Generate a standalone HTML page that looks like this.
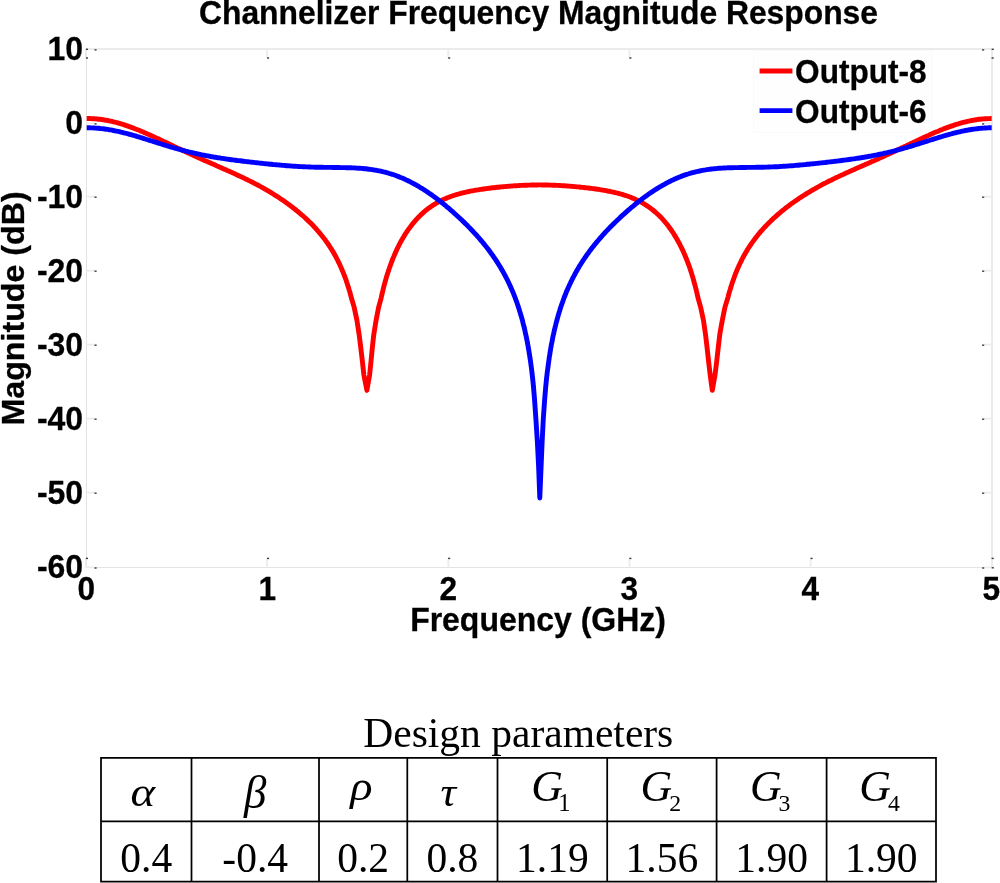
<!DOCTYPE html>
<html lang="en">
<head>
<meta charset="utf-8">
<title>Channelizer Frequency Magnitude Response</title>
<style>
html,body{margin:0;padding:0;background:#fff;}
body{width:1000px;height:883px;overflow:hidden;}
svg{display:block;}
</style>
</head>
<body>
<svg width="1000" height="883" viewBox="0 0 1000 883">
<rect width="1000" height="883" fill="#fff"/>
<!-- axes -->
<path d="M86.5 48.0V568.0" stroke="#e2e2e2" stroke-width="1"/>
<path d="M992.0 48.0V568.0" stroke="#ebebeb" stroke-width="2"/>
<path d="M86.0 49.0H993.0" stroke="#ebebeb" stroke-width="2"/>
<path d="M86.0 567.5H993.0" stroke="#e4e4e4" stroke-width="1"/>
<path d="M86.0 49.0v8.5M86.0 567.5v-8.5" stroke="#ececec" stroke-width="1.8"/>
<path d="M267.1 49.0v8.5M267.1 567.5v-8.5" stroke="#ececec" stroke-width="1.8"/>
<path d="M448.3 49.0v8.5M448.3 567.5v-8.5" stroke="#ececec" stroke-width="1.8"/>
<path d="M629.5 49.0v8.5M629.5 567.5v-8.5" stroke="#ececec" stroke-width="1.8"/>
<path d="M810.6 49.0v8.5M810.6 567.5v-8.5" stroke="#ececec" stroke-width="1.8"/>
<path d="M991.8 49.0v8.5M991.8 567.5v-8.5" stroke="#ececec" stroke-width="1.8"/>
<path d="M86.5 49.3h8.5M992.0 49.3h-8.5" stroke="#ececec" stroke-width="1.6"/>
<path d="M86.5 123.3h8.5M992.0 123.3h-8.5" stroke="#ececec" stroke-width="1.6"/>
<path d="M86.5 196.6h8.5M992.0 196.6h-8.5" stroke="#ececec" stroke-width="1.6"/>
<path d="M86.5 270.6h8.5M992.0 270.6h-8.5" stroke="#ececec" stroke-width="1.6"/>
<path d="M86.5 344.6h8.5M992.0 344.6h-8.5" stroke="#ececec" stroke-width="1.6"/>
<path d="M86.5 418.6h8.5M992.0 418.6h-8.5" stroke="#ececec" stroke-width="1.6"/>
<path d="M86.5 492.6h8.5M992.0 492.6h-8.5" stroke="#ececec" stroke-width="1.6"/>
<path d="M86.5 567.4h8.5M992.0 567.4h-8.5" stroke="#ececec" stroke-width="1.6"/>
<rect x="85.9" y="57.3" width="2.1" height="1.4" fill="#3a3a3a"/>
<rect x="85.9" y="557.7" width="2.1" height="1.4" fill="#3a3a3a"/>
<rect x="267.0" y="57.3" width="2.1" height="1.4" fill="#3a3a3a"/>
<rect x="267.0" y="557.7" width="2.1" height="1.4" fill="#3a3a3a"/>
<rect x="448.1" y="57.3" width="2.1" height="1.4" fill="#3a3a3a"/>
<rect x="448.1" y="557.7" width="2.1" height="1.4" fill="#3a3a3a"/>
<rect x="629.3" y="57.3" width="2.1" height="1.4" fill="#3a3a3a"/>
<rect x="629.3" y="557.7" width="2.1" height="1.4" fill="#3a3a3a"/>
<rect x="810.5" y="57.3" width="2.1" height="1.4" fill="#3a3a3a"/>
<rect x="810.5" y="557.7" width="2.1" height="1.4" fill="#3a3a3a"/>
<rect x="991.6" y="57.3" width="2.1" height="1.4" fill="#3a3a3a"/>
<rect x="991.6" y="557.7" width="2.1" height="1.4" fill="#3a3a3a"/>
<rect x="94.5" y="49.2" width="2.1" height="1.4" fill="#3a3a3a"/>
<rect x="982.1" y="49.2" width="2.1" height="1.4" fill="#3a3a3a"/>
<rect x="94.5" y="123.2" width="2.1" height="1.4" fill="#3a3a3a"/>
<rect x="982.1" y="123.2" width="2.1" height="1.4" fill="#3a3a3a"/>
<rect x="94.5" y="196.5" width="2.1" height="1.4" fill="#3a3a3a"/>
<rect x="982.1" y="196.5" width="2.1" height="1.4" fill="#3a3a3a"/>
<rect x="94.5" y="270.5" width="2.1" height="1.4" fill="#3a3a3a"/>
<rect x="982.1" y="270.5" width="2.1" height="1.4" fill="#3a3a3a"/>
<rect x="94.5" y="344.5" width="2.1" height="1.4" fill="#3a3a3a"/>
<rect x="982.1" y="344.5" width="2.1" height="1.4" fill="#3a3a3a"/>
<rect x="94.5" y="418.5" width="2.1" height="1.4" fill="#3a3a3a"/>
<rect x="982.1" y="418.5" width="2.1" height="1.4" fill="#3a3a3a"/>
<rect x="94.5" y="492.5" width="2.1" height="1.4" fill="#3a3a3a"/>
<rect x="982.1" y="492.5" width="2.1" height="1.4" fill="#3a3a3a"/>
<rect x="94.5" y="567.3" width="2.1" height="1.4" fill="#3a3a3a"/>
<rect x="982.1" y="567.3" width="2.1" height="1.4" fill="#3a3a3a"/>
<rect x="85.9" y="48.6" width="2.1" height="1.4" fill="#3a3a3a"/>
<rect x="991.7" y="48.6" width="2.1" height="1.4" fill="#3a3a3a"/>
<rect x="991.7" y="567.1" width="2.1" height="1.4" fill="#3a3a3a"/>
<!-- legend -->
<rect x="753.5" y="50.5" width="178.5" height="82" fill="#fefefe" stroke="#fafafa" stroke-width="1"/><path d="M759.6 71H792.4" stroke="#ff0000" stroke-width="4.8"/><path d="M759.6 110.6H792.4" stroke="#0000ff" stroke-width="4.8"/>
<!-- curves -->
<path d="M86.7 118.5L88.2 118.5L89.7 118.5L91.2 118.6L92.7 118.7L94.2 118.8L95.7 118.9L97.2 119.0L98.7 119.2L100.2 119.3L101.7 119.5L103.1 119.7L104.6 120.0L106.1 120.2L107.6 120.5L109.1 120.8L110.5 121.1L112.0 121.4L113.5 121.8L114.9 122.1L116.4 122.5L117.8 122.9L119.3 123.3L120.7 123.7L122.1 124.2L123.6 124.6L125.0 125.1L126.4 125.6L127.9 126.1L129.3 126.6L130.7 127.1L132.1 127.6L133.5 128.1L134.9 128.7L136.3 129.2L137.7 129.8L139.1 130.3L140.5 130.9L141.9 131.5L143.2 132.1L144.6 132.7L146.0 133.3L147.4 133.9L148.7 134.5L150.1 135.1L151.5 135.7L152.8 136.3L154.2 136.9L155.6 137.6L156.9 138.2L158.3 138.8L159.7 139.5L161.0 140.1L162.4 140.8L163.7 141.4L165.1 142.0L166.4 142.7L167.8 143.3L169.1 144.0L170.5 144.6L171.8 145.3L173.2 145.9L174.6 146.6L175.9 147.2L177.3 147.9L178.6 148.5L180.0 149.1L181.3 149.8L182.7 150.4L184.0 151.1L185.4 151.7L186.8 152.3L188.1 153.0L189.5 153.6L190.8 154.2L192.2 154.8L193.6 155.5L194.9 156.1L196.3 156.7L197.7 157.3L199.0 158.0L200.4 158.6L201.8 159.2L203.1 159.8L204.5 160.4L205.9 161.0L207.2 161.6L208.6 162.2L210.0 162.8L211.4 163.4L212.7 164.0L214.1 164.6L215.5 165.2L216.9 165.9L218.2 166.5L219.6 167.1L221.0 167.7L222.3 168.3L223.7 168.9L225.1 169.5L226.5 170.1L227.8 170.7L229.2 171.3L230.6 171.9L231.9 172.5L233.3 173.1L234.7 173.8L236.0 174.4L237.4 175.0L238.8 175.7L240.1 176.3L241.5 176.9L242.8 177.6L244.2 178.2L245.5 178.9L246.9 179.5L248.2 180.2L249.6 180.9L250.9 181.5L252.3 182.2L253.6 182.9L254.9 183.6L256.3 184.3L257.6 185.0L258.9 185.7L260.2 186.4L261.6 187.1L262.9 187.9L264.2 188.6L265.5 189.4L266.8 190.1L268.1 190.9L269.4 191.6L270.7 192.4L271.9 193.2L273.2 194.0L274.5 194.8L275.8 195.6L277.0 196.4L278.3 197.2L279.5 198.0L280.8 198.9L282.0 199.7L283.3 200.6L284.5 201.4L285.7 202.3L287.0 203.2L288.2 204.1L289.4 205.0L290.6 205.9L291.8 206.8L293.0 207.7L294.2 208.6L295.3 209.5L296.5 210.5L297.7 211.4L298.8 212.4L300.0 213.4L301.1 214.3L302.3 215.3L303.4 216.3L304.5 217.3L305.6 218.3L306.7 219.4L307.8 220.4L308.9 221.5L310.0 222.5L311.1 223.6L312.1 224.6L313.2 225.7L314.2 226.8L315.2 227.9L316.2 229.0L317.2 230.2L318.2 231.3L319.2 232.5L320.2 233.6L321.1 234.8L322.1 236.0L323.0 237.1L323.9 238.3L324.9 239.5L325.8 240.8L326.6 242.0L327.5 243.2L328.4 244.5L329.2 245.7L330.0 247.0L330.8 248.3L331.7 249.5L332.4 250.8L333.2 252.1L334.0 253.4L334.7 254.8L335.5 256.1L336.2 257.4L336.9 258.8L337.6 260.1L338.2 261.5L338.9 262.8L339.6 264.2L340.2 265.6L340.8 267.0L341.4 268.3L342.0 269.7L342.6 271.1L343.2 272.5L343.7 273.9L344.3 275.4L344.8 276.8L345.4 278.2L345.9 279.6L346.4 281.1L346.8 282.5L347.3 283.9L347.8 285.4L348.2 286.8L348.7 288.3L349.1 289.7L349.6 291.2L350.0 292.7L350.4 294.1L350.8 295.6L351.2 297.1L351.4 298.0L354.2 307.4L357.0 320.8L359.1 334.3L360.8 347.9L362.4 361.5L363.9 375.1L366.9 390.4L369.6 375.1L371.0 361.5L372.3 347.9L373.8 334.3L376.0 320.8L378.6 307.4L381.2 297.8L381.5 296.3L381.8 294.9L382.2 293.5L382.5 292.0L382.9 290.6L383.2 289.1L383.6 287.7L383.9 286.2L384.3 284.8L384.7 283.4L385.1 281.9L385.5 280.5L385.9 279.1L386.3 277.7L386.7 276.2L387.2 274.8L387.6 273.4L388.1 272.0L388.5 270.6L389.0 269.2L389.5 267.8L390.0 266.4L390.5 265.0L391.0 263.6L391.5 262.2L392.1 260.8L392.6 259.4L393.1 258.0L393.7 256.7L394.3 255.3L394.9 253.9L395.5 252.6L396.1 251.2L396.7 249.9L397.3 248.5L398.0 247.2L398.7 245.9L399.3 244.5L400.0 243.2L400.7 241.9L401.4 240.6L402.2 239.3L402.9 238.0L403.7 236.7L404.4 235.5L405.2 234.2L406.0 233.0L406.8 231.7L407.7 230.5L408.5 229.3L409.4 228.1L410.3 226.9L411.2 225.7L412.1 224.5L413.0 223.4L414.0 222.2L414.9 221.1L415.9 220.0L416.9 218.9L417.9 217.8L419.0 216.7L420.0 215.7L421.1 214.6L422.2 213.6L423.3 212.6L424.4 211.6L425.5 210.7L426.7 209.7L427.9 208.8L429.1 207.9L430.3 207.1L431.5 206.2L432.7 205.4L434.0 204.6L435.3 203.8L436.5 203.0L437.8 202.3L439.2 201.6L440.5 200.9L441.8 200.2L443.2 199.6L444.5 199.0L445.9 198.4L447.3 197.8L448.7 197.3L450.1 196.7L451.5 196.2L452.9 195.7L454.3 195.3L455.7 194.8L457.2 194.4L458.6 194.0L460.1 193.6L461.5 193.2L463.0 192.8L464.4 192.5L465.9 192.2L467.3 191.8L468.8 191.5L470.3 191.2L471.7 190.9L473.2 190.7L474.7 190.4L476.2 190.1L477.7 189.9L479.1 189.7L480.6 189.4L482.1 189.2L483.6 189.0L485.1 188.8L486.6 188.6L488.0 188.4L489.5 188.2L491.0 188.0L492.5 187.8L494.0 187.7L495.5 187.5L497.0 187.3L498.5 187.2L500.0 187.0L501.5 186.9L502.9 186.7L504.4 186.6L505.9 186.5L507.4 186.4L508.9 186.2L510.4 186.1L511.9 186.0L513.4 185.9L514.9 185.8L516.4 185.7L517.9 185.6L519.4 185.5L520.9 185.4L522.4 185.4L523.9 185.3L525.4 185.2L526.9 185.2L528.4 185.1L529.9 185.1L531.4 185.0L532.9 185.0L534.4 185.0L535.9 185.0L537.4 185.0L538.9 184.9L540.4 184.9L541.9 185.0L543.4 185.0L544.9 185.0L546.4 185.0L547.9 185.0L549.4 185.1L550.9 185.1L552.4 185.2L553.9 185.2L555.4 185.3L556.9 185.4L558.4 185.4L559.9 185.5L561.4 185.6L562.9 185.7L564.4 185.8L565.9 185.9L567.4 186.0L568.9 186.1L570.4 186.2L571.8 186.4L573.3 186.5L574.8 186.6L576.3 186.8L577.8 186.9L579.3 187.0L580.8 187.2L582.3 187.4L583.8 187.5L585.3 187.7L586.8 187.9L588.3 188.0L589.8 188.2L591.2 188.4L592.7 188.6L594.2 188.8L595.7 189.0L597.2 189.2L598.7 189.4L600.2 189.7L601.6 189.9L603.1 190.2L604.6 190.4L606.1 190.7L607.5 191.0L609.0 191.2L610.5 191.5L612.0 191.9L613.4 192.2L614.9 192.5L616.3 192.9L617.8 193.2L619.3 193.6L620.7 194.0L622.2 194.4L623.6 194.9L625.0 195.3L626.4 195.8L627.9 196.3L629.3 196.8L630.7 197.3L632.1 197.9L633.5 198.5L634.9 199.1L636.2 199.7L637.6 200.3L638.9 201.0L640.3 201.7L641.6 202.4L642.9 203.2L644.2 204.0L645.5 204.8L646.7 205.6L648.0 206.4L649.2 207.3L650.5 208.2L651.7 209.1L652.8 210.0L654.0 211.0L655.2 212.0L656.3 213.0L657.4 214.0L658.5 215.0L659.6 216.1L660.7 217.1L661.7 218.2L662.7 219.3L663.7 220.5L664.7 221.6L665.7 222.8L666.7 223.9L667.6 225.1L668.5 226.3L669.4 227.5L670.3 228.8L671.2 230.0L672.1 231.3L672.9 232.5L673.7 233.8L674.5 235.1L675.3 236.4L676.1 237.7L676.9 239.0L677.6 240.3L678.3 241.6L679.0 243.0L679.8 244.3L680.4 245.6L681.1 247.0L681.8 248.4L682.4 249.7L683.1 251.1L683.7 252.5L684.3 253.9L684.9 255.3L685.5 256.7L686.1 258.1L686.6 259.5L687.2 260.9L687.7 262.3L688.3 263.7L688.8 265.1L689.3 266.6L689.8 268.0L690.3 269.4L690.8 270.9L691.2 272.3L691.7 273.8L692.1 275.2L692.6 276.7L693.0 278.1L693.4 279.6L693.8 281.0L694.2 282.5L694.6 283.9L695.0 285.4L695.4 286.9L695.8 288.3L696.2 289.8L696.5 291.3L696.9 292.8L697.2 294.2L697.5 295.7L697.9 297.2L698.0 297.8L700.7 307.4L703.4 320.0L705.5 334.3L707.1 347.9L708.6 361.5L710.2 375.1L712.3 390.4L715.0 375.1L716.7 361.5L718.2 347.9L719.8 334.3L722.2 320.8L724.9 307.4L727.8 298.0L728.2 296.6L728.5 295.2L728.9 293.7L729.3 292.3L729.7 290.9L730.2 289.4L730.6 288.0L731.0 286.6L731.5 285.2L731.9 283.8L732.4 282.4L732.9 281.0L733.4 279.6L733.9 278.2L734.4 276.8L734.9 275.4L735.4 274.0L736.0 272.6L736.5 271.3L737.1 269.9L737.7 268.5L738.3 267.2L738.9 265.8L739.5 264.5L740.1 263.1L740.8 261.8L741.5 260.5L742.1 259.1L742.8 257.8L743.5 256.5L744.2 255.2L745.0 253.9L745.7 252.6L746.5 251.3L747.2 250.1L748.0 248.8L748.8 247.5L749.6 246.3L750.4 245.1L751.3 243.8L752.1 242.6L753.0 241.4L753.9 240.2L754.8 239.0L755.7 237.8L756.6 236.6L757.5 235.5L758.4 234.3L759.4 233.2L760.3 232.0L761.3 230.9L762.3 229.8L763.3 228.7L764.3 227.6L765.3 226.5L766.4 225.4L767.4 224.3L768.5 223.3L769.5 222.2L770.6 221.2L771.7 220.1L772.8 219.1L773.8 218.1L775.0 217.1L776.1 216.1L777.2 215.1L778.3 214.1L779.5 213.2L780.6 212.2L781.8 211.2L782.9 210.3L784.1 209.4L785.3 208.4L786.4 207.5L787.6 206.6L788.8 205.7L790.0 204.8L791.2 203.9L792.4 203.0L793.6 202.2L794.9 201.3L796.1 200.5L797.3 199.6L798.6 198.8L799.8 197.9L801.1 197.1L802.3 196.3L803.6 195.5L804.9 194.7L806.1 193.9L807.4 193.1L808.7 192.3L810.0 191.6L811.2 190.8L812.5 190.0L813.8 189.3L815.1 188.6L816.4 187.8L817.7 187.1L819.1 186.4L820.4 185.7L821.7 184.9L823.0 184.2L824.3 183.5L825.7 182.9L827.0 182.2L828.3 181.5L829.7 180.8L831.0 180.2L832.4 179.5L833.7 178.8L835.1 178.2L836.4 177.5L837.8 176.9L839.1 176.3L840.5 175.6L841.8 175.0L843.2 174.4L844.6 173.7L845.9 173.1L847.3 172.5L848.7 171.9L850.0 171.3L851.4 170.7L852.8 170.1L854.2 169.5L855.5 168.8L856.9 168.2L858.3 167.6L859.6 167.0L861.0 166.4L862.4 165.8L863.8 165.2L865.1 164.6L866.5 164.0L867.9 163.4L869.3 162.8L870.6 162.2L872.0 161.6L873.4 161.0L874.7 160.4L876.1 159.8L877.5 159.2L878.9 158.5L880.2 157.9L881.6 157.3L883.0 156.7L884.3 156.1L885.7 155.4L887.0 154.8L888.4 154.2L889.8 153.6L891.1 152.9L892.5 152.3L893.9 151.7L895.2 151.0L896.6 150.4L897.9 149.7L899.3 149.1L900.6 148.5L902.0 147.8L903.4 147.2L904.7 146.5L906.1 145.9L907.4 145.2L908.8 144.6L910.1 144.0L911.5 143.3L912.8 142.7L914.2 142.0L915.5 141.4L916.9 140.7L918.2 140.1L919.6 139.5L921.0 138.8L922.3 138.2L923.7 137.5L925.0 136.9L926.4 136.3L927.8 135.7L929.1 135.1L930.5 134.4L931.9 133.8L933.2 133.2L934.6 132.6L936.0 132.0L937.4 131.5L938.8 130.9L940.1 130.3L941.5 129.7L942.9 129.2L944.3 128.6L945.7 128.1L947.1 127.6L948.5 127.1L949.9 126.6L951.3 126.1L952.8 125.6L954.2 125.1L955.6 124.6L957.0 124.2L958.5 123.8L959.9 123.3L961.4 122.9L962.8 122.5L964.2 122.2L965.7 121.8L967.2 121.5L968.6 121.1L970.1 120.8L971.6 120.5L973.0 120.3L974.5 120.0L976.0 119.8L977.5 119.5L979.0 119.3L980.4 119.2L981.9 119.0L983.4 118.9L984.9 118.8L986.4 118.7L987.9 118.6L989.4 118.6L990.9 118.5L991.7 118.5" fill="none" stroke="#ff0000" stroke-width="4.9" stroke-linejoin="round" stroke-linecap="butt"/>
<path d="M86.7 127.8L88.2 127.8L89.7 127.8L91.2 127.9L92.7 127.9L94.2 128.0L95.7 128.1L97.2 128.2L98.7 128.3L100.2 128.5L101.7 128.6L103.2 128.8L104.7 129.0L106.1 129.2L107.6 129.4L109.1 129.7L110.6 129.9L112.1 130.2L113.5 130.5L115.0 130.8L116.5 131.1L117.9 131.4L119.4 131.7L120.9 132.1L122.3 132.4L123.8 132.8L125.2 133.1L126.7 133.5L128.2 133.9L129.6 134.3L131.0 134.7L132.5 135.1L133.9 135.5L135.4 135.9L136.8 136.4L138.3 136.8L139.7 137.2L141.1 137.7L142.6 138.1L144.0 138.6L145.4 139.0L146.9 139.5L148.3 139.9L149.7 140.4L151.1 140.8L152.6 141.3L154.0 141.7L155.4 142.2L156.9 142.6L158.3 143.1L159.7 143.5L161.1 144.0L162.6 144.4L164.0 144.9L165.4 145.3L166.9 145.8L168.3 146.2L169.7 146.6L171.2 147.1L172.6 147.5L174.1 147.9L175.5 148.3L176.9 148.7L178.4 149.1L179.8 149.5L181.3 149.9L182.7 150.3L184.2 150.7L185.6 151.1L187.1 151.4L188.5 151.8L190.0 152.1L191.5 152.5L192.9 152.8L194.4 153.2L195.8 153.5L197.3 153.8L198.8 154.1L200.2 154.5L201.7 154.8L203.2 155.1L204.6 155.3L206.1 155.6L207.6 155.9L209.1 156.2L210.5 156.5L212.0 156.7L213.5 157.0L215.0 157.2L216.5 157.5L217.9 157.7L219.4 157.9L220.9 158.2L222.4 158.4L223.9 158.6L225.3 158.8L226.8 159.1L228.3 159.3L229.8 159.5L231.3 159.7L232.8 159.9L234.3 160.1L235.7 160.3L237.2 160.5L238.7 160.6L240.2 160.8L241.7 161.0L243.2 161.2L244.7 161.4L246.2 161.6L247.7 161.7L249.1 161.9L250.6 162.1L252.1 162.2L253.6 162.4L255.1 162.6L256.6 162.7L258.1 162.9L259.6 163.1L261.1 163.2L262.6 163.4L264.1 163.6L265.5 163.7L267.0 163.9L268.5 164.0L270.0 164.2L271.5 164.3L273.0 164.5L274.5 164.6L276.0 164.7L277.5 164.9L279.0 165.0L280.5 165.1L282.0 165.3L283.5 165.4L285.0 165.5L286.5 165.7L287.9 165.8L289.4 165.9L290.9 166.0L292.4 166.1L293.9 166.2L295.4 166.3L296.9 166.4L298.4 166.5L299.9 166.6L301.4 166.6L302.9 166.7L304.4 166.8L305.9 166.9L307.4 166.9L308.9 167.0L310.4 167.0L311.9 167.1L313.4 167.1L314.9 167.2L316.4 167.2L317.9 167.2L319.4 167.3L320.9 167.3L322.4 167.3L323.9 167.4L325.4 167.4L326.9 167.4L328.4 167.4L329.9 167.4L331.4 167.4L332.9 167.5L334.4 167.5L335.9 167.5L337.4 167.5L338.9 167.5L340.4 167.6L341.9 167.6L343.4 167.6L344.9 167.6L346.4 167.7L347.9 167.7L349.4 167.8L350.9 167.8L352.4 167.9L353.9 167.9L355.4 168.0L356.9 168.1L358.4 168.2L359.9 168.3L361.4 168.4L362.9 168.5L364.4 168.7L365.9 168.8L367.4 169.0L368.8 169.2L370.3 169.4L371.8 169.6L373.3 169.8L374.8 170.1L376.3 170.3L377.7 170.6L379.2 170.9L380.7 171.2L382.1 171.5L383.6 171.9L385.1 172.2L386.5 172.6L388.0 173.0L389.4 173.5L390.8 173.9L392.3 174.3L393.7 174.8L395.1 175.3L396.5 175.8L397.9 176.4L399.3 176.9L400.7 177.5L402.1 178.0L403.5 178.6L404.9 179.3L406.2 179.9L407.6 180.5L409.0 181.2L410.3 181.9L411.6 182.6L413.0 183.3L414.3 184.0L415.6 184.7L416.9 185.5L418.2 186.2L419.5 187.0L420.8 187.8L422.1 188.5L423.3 189.3L424.6 190.2L425.9 191.0L427.1 191.8L428.4 192.7L429.6 193.5L430.8 194.4L432.1 195.2L433.3 196.1L434.5 197.0L435.7 197.9L436.9 198.8L438.1 199.7L439.3 200.6L440.5 201.6L441.7 202.5L442.8 203.4L444.0 204.4L445.2 205.3L446.3 206.3L447.5 207.3L448.6 208.2L449.8 209.2L450.9 210.2L452.0 211.2L453.2 212.2L454.3 213.2L455.4 214.2L456.5 215.2L457.6 216.2L458.7 217.2L459.8 218.2L460.9 219.3L462.0 220.3L463.1 221.4L464.2 222.4L465.2 223.5L466.3 224.5L467.4 225.6L468.4 226.7L469.5 227.7L470.5 228.8L471.6 229.9L472.6 231.0L473.6 232.1L474.6 233.2L475.7 234.3L476.7 235.4L477.7 236.6L478.7 237.7L479.7 238.8L480.6 240.0L481.6 241.1L482.6 242.3L483.5 243.4L484.5 244.6L485.4 245.8L486.4 247.0L487.3 248.1L488.2 249.3L489.1 250.5L490.0 251.7L490.9 253.0L491.8 254.2L492.7 255.4L493.5 256.7L494.4 257.9L495.2 259.1L496.1 260.4L496.9 261.7L497.7 262.9L498.5 264.2L499.3 265.5L500.1 266.8L500.9 268.1L501.6 269.4L502.4 270.7L503.1 272.0L503.9 273.3L504.6 274.7L505.3 276.0L506.0 277.3L506.7 278.7L507.4 280.0L508.0 281.4L508.7 282.7L509.3 284.1L510.0 285.5L510.6 286.9L511.2 288.2L511.8 289.6L512.4 291.0L513.0 292.4L513.6 293.8L514.1 295.2L514.7 296.6L515.2 298.1L515.7 299.5L516.3 300.9L516.8 302.3L517.3 303.7L517.8 305.2L518.2 306.6L518.7 308.1L519.2 309.5L519.6 310.9L520.1 312.4L520.5 313.8L520.9 315.3L521.4 316.8L521.8 318.2L522.2 319.7L522.6 321.1L522.9 322.6L523.3 324.1L523.7 325.6L524.1 327.0L524.4 328.5L524.8 330.0L525.1 331.5L525.4 332.9L525.7 334.4L526.1 335.9L526.4 337.4L526.7 338.9L527.0 340.4L527.3 341.8L527.5 343.3L527.8 344.8L528.1 346.3L528.3 347.8L528.6 349.3L528.9 350.8L529.1 352.3L529.3 353.8L529.6 355.3L529.8 356.8L530.0 358.3L530.3 359.8L530.5 361.3L530.7 362.8L530.9 364.3L531.1 365.8L531.3 367.3L531.5 368.8L531.7 370.3L531.9 371.8L532.0 373.3L532.2 374.8L532.4 376.4L532.6 377.9L532.7 379.4L532.9 380.9L533.0 382.4L533.2 383.9L533.3 385.4L533.5 386.9L533.6 388.2L534.5 399.0L535.9 418.9L537.4 442.7L538.6 466.5L539.8 498.0L541.1 466.5L542.1 442.7L543.3 418.9L544.7 399.0L545.6 388.2L545.7 386.7L545.9 385.3L546.0 383.8L546.2 382.3L546.3 380.8L546.5 379.4L546.6 377.9L546.8 376.4L547.0 374.9L547.1 373.5L547.3 372.0L547.5 370.5L547.7 369.1L547.9 367.6L548.1 366.1L548.3 364.6L548.5 363.2L548.7 361.7L548.9 360.2L549.1 358.8L549.3 357.3L549.5 355.8L549.8 354.4L550.0 352.9L550.2 351.4L550.5 350.0L550.7 348.5L551.0 347.1L551.2 345.6L551.5 344.1L551.8 342.7L552.1 341.2L552.4 339.8L552.6 338.3L552.9 336.9L553.2 335.4L553.6 334.0L553.9 332.5L554.2 331.1L554.5 329.6L554.9 328.2L555.2 326.7L555.6 325.3L555.9 323.8L556.3 322.4L556.7 321.0L557.1 319.5L557.5 318.1L557.9 316.7L558.3 315.2L558.7 313.8L559.1 312.4L559.6 311.0L560.0 309.6L560.5 308.1L560.9 306.7L561.4 305.3L561.9 303.9L562.4 302.5L562.9 301.1L563.4 299.7L563.9 298.3L564.4 296.9L565.0 295.6L565.5 294.2L566.1 292.8L566.6 291.4L567.2 290.1L567.8 288.7L568.4 287.3L569.0 286.0L569.6 284.6L570.3 283.3L570.9 281.9L571.6 280.6L572.2 279.3L572.9 277.9L573.6 276.6L574.3 275.3L575.0 274.0L575.7 272.7L576.4 271.4L577.2 270.1L577.9 268.8L578.7 267.5L579.4 266.2L580.2 265.0L581.0 263.7L581.8 262.5L582.6 261.2L583.4 260.0L584.3 258.7L585.1 257.5L586.0 256.3L586.8 255.0L587.7 253.8L588.6 252.6L589.4 251.4L590.3 250.2L591.2 249.0L592.1 247.8L593.1 246.7L594.0 245.5L594.9 244.3L595.9 243.2L596.8 242.0L597.8 240.9L598.8 239.7L599.7 238.6L600.7 237.5L601.7 236.4L602.7 235.2L603.7 234.1L604.7 233.0L605.7 231.9L606.7 230.8L607.8 229.8L608.8 228.7L609.8 227.6L610.9 226.5L611.9 225.5L613.0 224.4L614.1 223.4L615.1 222.3L616.2 221.3L617.3 220.2L618.4 219.2L619.5 218.2L620.5 217.1L621.6 216.1L622.7 215.1L623.9 214.1L625.0 213.1L626.1 212.1L627.2 211.1L628.3 210.1L629.5 209.2L630.6 208.2L631.8 207.2L632.9 206.3L634.1 205.3L635.2 204.4L636.4 203.4L637.5 202.5L638.7 201.6L639.9 200.6L641.1 199.7L642.3 198.8L643.5 197.9L644.7 197.0L645.9 196.1L647.1 195.3L648.3 194.4L649.5 193.5L650.8 192.7L652.0 191.9L653.3 191.0L654.5 190.2L655.8 189.4L657.0 188.6L658.3 187.8L659.6 187.0L660.9 186.3L662.2 185.5L663.5 184.8L664.8 184.1L666.1 183.3L667.4 182.6L668.7 182.0L670.1 181.3L671.4 180.6L672.8 180.0L674.1 179.3L675.5 178.7L676.9 178.1L678.2 177.6L679.6 177.0L681.0 176.4L682.4 175.9L683.8 175.4L685.2 174.9L686.7 174.4L688.1 174.0L689.5 173.5L690.9 173.1L692.4 172.7L693.8 172.3L695.3 172.0L696.7 171.6L698.2 171.3L699.7 171.0L701.1 170.7L702.6 170.4L704.1 170.1L705.6 169.9L707.0 169.6L708.5 169.4L710.0 169.2L711.5 169.0L713.0 168.9L714.5 168.7L716.0 168.6L717.5 168.4L719.0 168.3L720.5 168.2L722.0 168.1L723.5 168.0L724.9 168.0L726.4 167.9L727.9 167.8L729.4 167.8L730.9 167.7L732.4 167.7L733.9 167.6L735.4 167.6L736.9 167.6L738.4 167.6L739.9 167.5L741.4 167.5L742.9 167.5L744.4 167.5L745.9 167.5L747.4 167.4L748.9 167.4L750.4 167.4L751.9 167.4L753.4 167.4L754.9 167.4L756.4 167.3L757.9 167.3L759.4 167.3L760.9 167.3L762.4 167.2L763.9 167.2L765.4 167.1L766.9 167.1L768.4 167.0L769.9 167.0L771.4 166.9L772.9 166.9L774.4 166.8L775.9 166.7L777.4 166.7L778.9 166.6L780.4 166.5L781.9 166.4L783.4 166.3L784.9 166.2L786.4 166.1L787.9 166.0L789.4 165.9L790.9 165.8L792.4 165.7L793.9 165.6L795.4 165.4L796.9 165.3L798.4 165.2L799.9 165.0L801.4 164.9L802.9 164.8L804.4 164.6L805.8 164.5L807.3 164.3L808.8 164.2L810.3 164.0L811.8 163.9L813.3 163.7L814.8 163.6L816.3 163.4L817.8 163.3L819.3 163.1L820.8 162.9L822.3 162.8L823.7 162.6L825.2 162.5L826.7 162.3L828.2 162.1L829.7 161.9L831.2 161.8L832.7 161.6L834.2 161.4L835.7 161.2L837.2 161.1L838.6 160.9L840.1 160.7L841.6 160.5L843.1 160.3L844.6 160.1L846.1 159.9L847.6 159.7L849.1 159.5L850.5 159.3L852.0 159.1L853.5 158.9L855.0 158.7L856.5 158.4L858.0 158.2L859.5 158.0L860.9 157.8L862.4 157.5L863.9 157.3L865.4 157.0L866.9 156.8L868.3 156.5L869.8 156.2L871.3 156.0L872.8 155.7L874.2 155.4L875.7 155.1L877.2 154.8L878.6 154.5L880.1 154.2L881.6 153.9L883.0 153.6L884.5 153.2L886.0 152.9L887.4 152.6L888.9 152.2L890.4 151.9L891.8 151.5L893.3 151.1L894.7 150.8L896.2 150.4L897.6 150.0L899.1 149.6L900.5 149.2L902.0 148.8L903.4 148.4L904.9 148.0L906.3 147.6L907.7 147.1L909.2 146.7L910.6 146.3L912.0 145.9L913.5 145.4L914.9 145.0L916.3 144.5L917.8 144.1L919.2 143.6L920.6 143.2L922.1 142.7L923.5 142.3L924.9 141.8L926.4 141.4L927.8 140.9L929.2 140.5L930.6 140.0L932.1 139.6L933.5 139.1L934.9 138.7L936.4 138.2L937.8 137.8L939.2 137.3L940.7 136.9L942.1 136.5L943.5 136.0L945.0 135.6L946.4 135.2L947.9 134.8L949.3 134.4L950.8 134.0L952.2 133.6L953.7 133.2L955.1 132.8L956.6 132.5L958.0 132.1L959.5 131.8L960.9 131.5L962.4 131.1L963.9 130.8L965.3 130.5L966.8 130.3L968.3 130.0L969.8 129.7L971.2 129.5L972.7 129.3L974.2 129.1L975.7 128.9L977.2 128.7L978.7 128.5L980.2 128.4L981.7 128.2L983.2 128.1L984.6 128.0L986.1 128.0L987.6 127.9L989.1 127.8L990.6 127.8L991.7 127.8" fill="none" stroke="#0000ff" stroke-width="4.9" stroke-linejoin="round" stroke-linecap="butt"/>
<!-- labels -->
<g font-family="'Liberation Sans', Arial, Helvetica, sans-serif" font-weight="bold" font-size="32.5px" fill="#000" stroke="#000" stroke-width="0.3">
<text transform="translate(538.5 23.9) scale(0.965 1)" text-anchor="middle" font-size="33.00px">Channelizer Frequency Magnitude Response</text>
<text transform="translate(83.1 60.3) scale(0.940 1)" text-anchor="end" font-size="34.00px">10</text>
<text transform="translate(83.1 134.2) scale(0.940 1)" text-anchor="end" font-size="34.00px">0</text>
<text transform="translate(83.1 208.2) scale(0.940 1)" text-anchor="end" font-size="34.00px">-10</text>
<text transform="translate(83.1 282.2) scale(0.940 1)" text-anchor="end" font-size="34.00px">-20</text>
<text transform="translate(83.1 356.1) scale(0.940 1)" text-anchor="end" font-size="34.00px">-30</text>
<text transform="translate(83.1 430.1) scale(0.940 1)" text-anchor="end" font-size="34.00px">-40</text>
<text transform="translate(83.1 504.0) scale(0.940 1)" text-anchor="end" font-size="34.00px">-50</text>
<text transform="translate(83.1 578.0) scale(0.940 1)" text-anchor="end" font-size="34.00px">-60</text>
<text transform="translate(86.4 600.3) scale(0.930 1)" text-anchor="middle" font-size="34.00px">0</text>
<text transform="translate(267.4 600.3) scale(0.930 1)" text-anchor="middle" font-size="34.00px">1</text>
<text transform="translate(448.4 600.3) scale(0.930 1)" text-anchor="middle" font-size="34.00px">2</text>
<text transform="translate(629.4 600.3) scale(0.930 1)" text-anchor="middle" font-size="34.00px">3</text>
<text transform="translate(810.4 600.3) scale(0.930 1)" text-anchor="middle" font-size="34.00px">4</text>
<text transform="translate(991.4 600.3) scale(0.930 1)" text-anchor="middle" font-size="34.00px">5</text>
<text transform="translate(538.0 630.5) scale(0.975 1)" text-anchor="middle" font-size="32.80px">Frequency (GHz)</text>
<text transform="translate(23.8 308.4) rotate(-90)" text-anchor="middle" font-size="32.2px">Magnitude (dB)</text>
<text transform="translate(795.1 83.2) scale(0.963 1)" text-anchor="start" font-size="32.80px">Output-8</text>
<text transform="translate(795.1 122.8) scale(0.963 1)" text-anchor="start" font-size="32.80px">Output-6</text>
</g>
<!-- table -->
<path d="M101.0 757.0V882.5M191.5 757.0V882.5M319.0 757.0V882.5M407.3 757.0V882.5M497.5 757.0V882.5M607.2 757.0V882.5M716.6 757.0V882.5M826.6 757.0V882.5M936.0 757.0V882.5M100.2 757.8H936.8M100.2 821.3H936.8M100.2 881.7H936.8" stroke="#000" stroke-width="1.75" fill="none"/>
<g font-family="'Liberation Serif', 'Times New Roman', Times, serif" font-size="41.5px" fill="#000">
<text x="518.3" y="747.3" text-anchor="middle">Design parameters</text>
<text transform="translate(142.8 806.0) scale(1.13 1.00)" text-anchor="middle" font-style="italic">α</text>
<text transform="translate(255.2 807.8) scale(1.08 1.10)" text-anchor="middle" font-style="italic">β</text>
<text transform="translate(361.4 800.0) scale(1.12 1.00)" text-anchor="middle" font-style="italic">ρ</text>
<text transform="translate(448.4 806.0) scale(1.05 1.00)" text-anchor="middle" font-style="italic">τ</text>
<text x="562.8" y="800.8" text-anchor="end" font-style="italic" font-size="43.8px">G</text>
<text x="558.2" y="811" text-anchor="start" font-size="24.5px">1</text>
<text x="672.2" y="800.8" text-anchor="end" font-style="italic" font-size="43.8px">G</text>
<text x="669.2" y="811" text-anchor="start" font-size="23.8px">2</text>
<text x="781.6" y="800.8" text-anchor="end" font-style="italic" font-size="43.8px">G</text>
<text x="778.6" y="811" text-anchor="start" font-size="23.8px">3</text>
<text x="891.0" y="800.8" text-anchor="end" font-style="italic" font-size="43.8px">G</text>
<text x="888.0" y="811" text-anchor="start" font-size="23.8px">4</text>
<text x="146.2" y="872" text-anchor="middle">0.4</text>
<text x="255.2" y="872" text-anchor="middle">-0.4</text>
<text x="363.1" y="872" text-anchor="middle">0.2</text>
<text x="452.4" y="872" text-anchor="middle">0.8</text>
<text x="552.4" y="872" text-anchor="middle">1.19</text>
<text x="661.9" y="872" text-anchor="middle">1.56</text>
<text x="771.6" y="872" text-anchor="middle">1.90</text>
<text x="881.3" y="872" text-anchor="middle">1.90</text>
</g>
</svg>
</body>
</html>
